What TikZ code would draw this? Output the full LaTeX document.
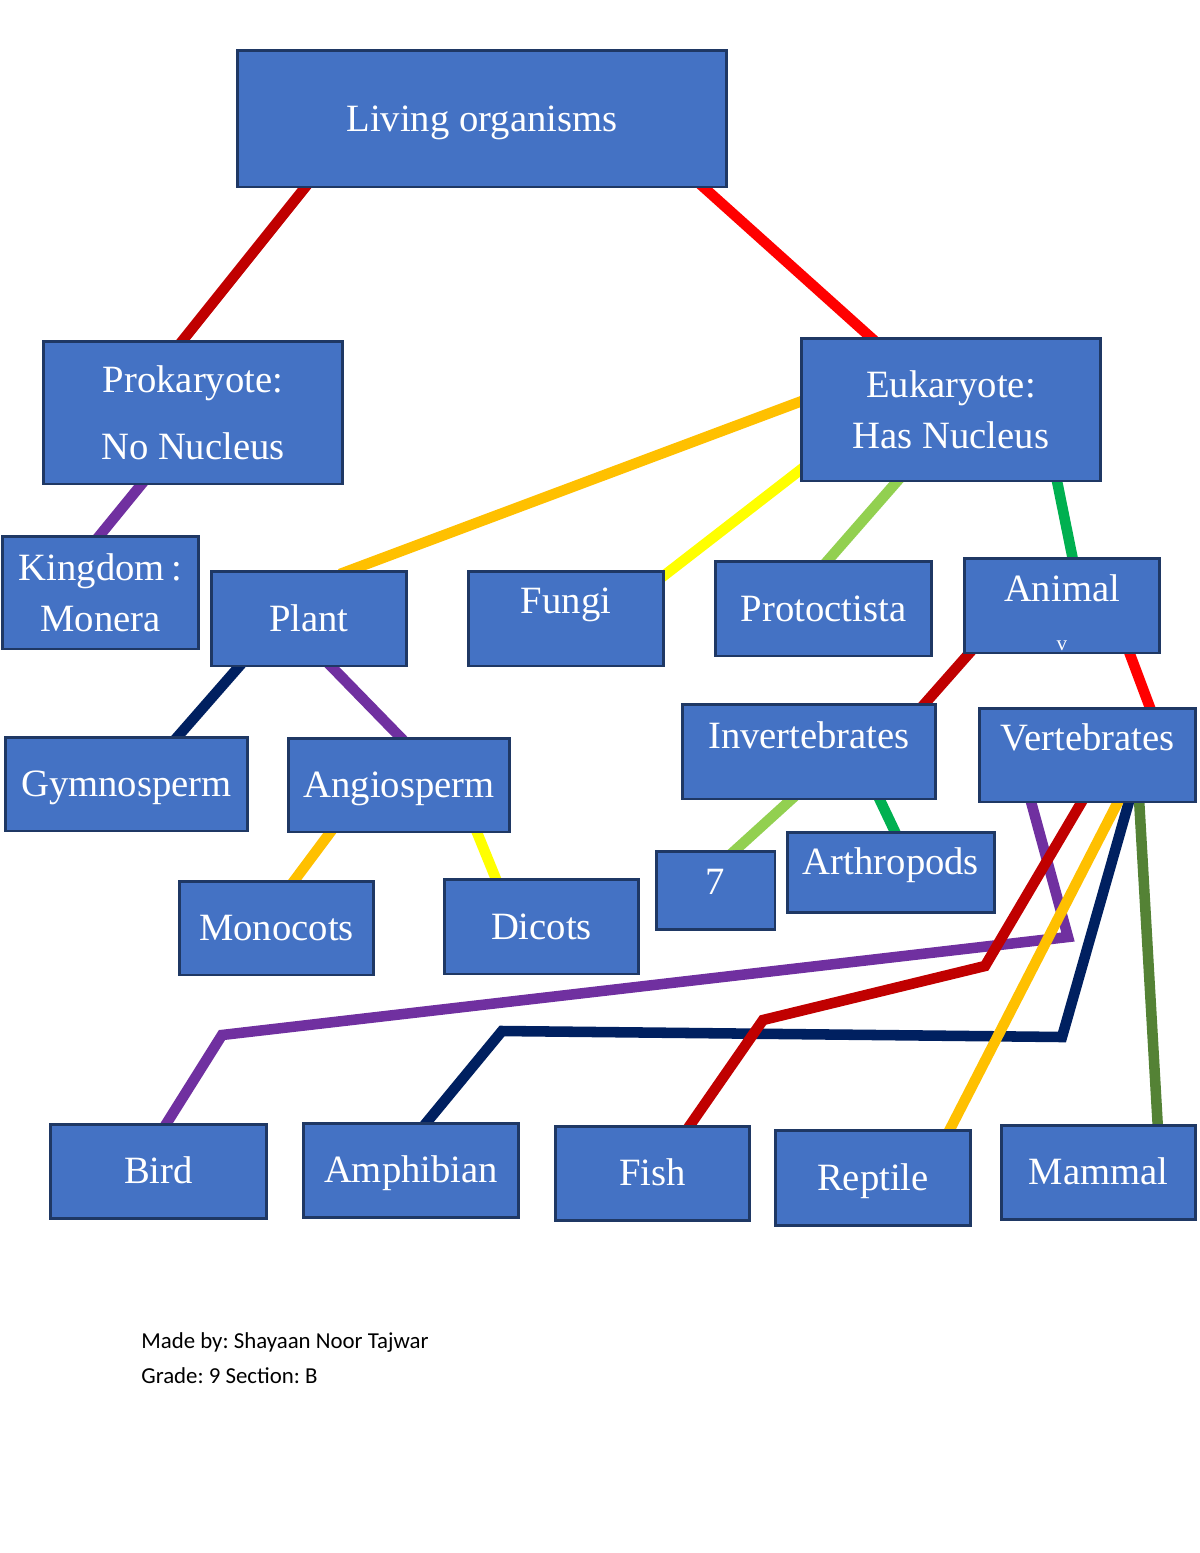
\documentclass[tikz,border=0pt]{standalone}
\usepackage{fontspec}
\setmainfont{Liberation Serif}
\newfontfamily\footfont{Carlito}
\usepackage{tikz}
\usetikzlibrary{calc, backgrounds}
\frenchspacing
\definecolor{boxblue}{HTML}{4472C4}
\definecolor{boxedge}{HTML}{1F3864}
\definecolor{linkdarkred}{HTML}{C00000}
\definecolor{linkred}{HTML}{FF0000}
\definecolor{linkpurple}{HTML}{7030A0}
\definecolor{linkgold}{HTML}{FFC000}
\definecolor{linkyellow}{HTML}{FFFF00}
\definecolor{linklime}{HTML}{92D050}
\definecolor{linkgreen}{HTML}{00B050}
\definecolor{linknavy}{HTML}{002060}
\definecolor{linkolive}{HTML}{548235}
\tikzset{
  taxbox/.style={rectangle, draw=boxedge, fill=boxblue, line width=1.7pt,
    text=white, font=\fontsize{22}{29}\selectfont, inner sep=2pt,
    text height=0.5cm, text depth=0cm},
  twobox/.style={rectangle, draw=boxedge, fill=boxblue, line width=1.7pt,
    text=white, font=\fontsize{22}{29}\selectfont, inner sep=2pt, align=center},
  link/.style={line width=6pt},
  credit/.style={anchor=base west, inner sep=0pt, font=\footfont\fontsize{13}{15}\selectfont}
}

\begin{document}
\begin{tikzpicture}[x=0.02cm, y=-0.02cm]
  \useasboundingbox (0,0) rectangle (1200,1553);

  % Top level
  \node[taxbox, minimum width=9.8cm, minimum height=2.74cm] (liv) at (482,118.5) {Living organisms};

  % Cell types
  \node[twobox, minimum width=6cm, minimum height=2.86cm] (pro) at (193,412.5) {Prokaryote:\\[9pt]No Nucleus};
  \node[twobox, minimum width=6cm, minimum height=2.86cm] (euk) at (951,409.5) {Eukaryote:\\Has Nucleus};

  % Kingdoms
  \node[twobox, minimum width=3.94cm, minimum height=2.26cm] (kin) at (100.5,592.5) {Kingdom\,:\\Monera};
  \node[taxbox, minimum width=3.92cm, minimum height=1.9cm] (pla) at (309,618.5) {Plant};
  \node[taxbox, minimum width=3.92cm, minimum height=1.9cm, text depth=0.7cm] (fun) at (566,618.5) {Fungi};
  \node[taxbox, minimum width=4.34cm, minimum height=1.9cm] (prt) at (823.5,608.5) {Protoctista};
  \node[taxbox, minimum width=3.92cm, minimum height=1.9cm, text depth=0.66cm] (ani) at (1062,605.5) {Animal};
  \node[text=white, font=\fontsize{12}{12}\selectfont, inner sep=0pt] (aniv) at (1062,646) {v};

  % Plant groups
  \node[taxbox, minimum width=4.86cm, minimum height=1.88cm] (gym) at (126.5,784) {Gymnosperm};
  \node[taxbox, minimum width=4.44cm, minimum height=1.88cm] (ang) at (399,785) {Angiosperm};
  \node[taxbox, minimum width=3.9cm, minimum height=1.88cm] (mon) at (276.5,928) {Monocots};
  \node[taxbox, minimum width=3.9cm, minimum height=1.9cm] (dic) at (541.5,926.5) {Dicots};

  % Animal groups
  \node[taxbox, minimum width=5.08cm, minimum height=1.9cm, text depth=0.62cm] (inv) at (809,751.5) {Invertebrates};
  \node[taxbox, minimum width=4.34cm, minimum height=1.88cm, text depth=0.68cm] (ver) at (1087.5,755) {Vertebrates};
  \node[taxbox, minimum width=2.38cm, minimum height=1.56cm, text depth=0.32cm] (sev) at (715.5,890) {7};
  \node[taxbox, minimum width=4.16cm, minimum height=1.6cm, text depth=0.4cm] (art) at (891,872) {Arthropods};

  % Vertebrate classes
  \node[taxbox, minimum width=4.34cm, minimum height=1.88cm] (bir) at (158.5,1171) {Bird};
  \node[taxbox, minimum width=4.32cm, minimum height=1.88cm] (amp) at (411,1170) {Amphibian};
  \node[taxbox, minimum width=3.9cm, minimum height=1.88cm] (fis) at (652.5,1173) {Fish};
  \node[taxbox, minimum width=3.92cm, minimum height=1.9cm] (rep) at (873,1177.5) {Reptile};
  \node[taxbox, minimum width=3.9cm, minimum height=1.88cm] (mam) at (1098.5,1172) {Mammal};

  % Credits
  \node[credit] (made) at (141,1348) {Made by: Shayaan Noor Tajwar};
  \node[credit] (grade) at (141,1383) {Grade: 9 Section: B};

  % Bends of the long links
  \coordinate (bird1) at (1068,937);
  \coordinate (bird2) at (222,1035);
  \coordinate (amph1) at (1062,1037);
  \coordinate (amph2) at (502,1031);
  \coordinate (fish1) at (985,966);
  \coordinate (fish2) at (763,1020);

  % Links
  \begin{pgfonlayer}{background}
    \fill[white] (0,0) rectangle (1200,1553);
    \draw[link, linkdarkred] ($(liv)+(-171,61.5)$) -- ($(pro)+(-18,-62.5)$);
    \draw[link, linkred] ($(liv)+(218,65.5)$) -- ($(euk)+(-74,-66.5)$);
    \draw[link, linkpurple] ($(pro)+(-48,67.5)$) -- ($(kin)+(-4.5,-52.5)$);
    \draw[link, linkgold] ($(euk)+(-141,-11.5)$) -- ($(pla)+(31,-44.5)$);
    \draw[link, linkyellow] ($(euk)+(-143,54.5)$) -- ($(fun)+(91,-37.5)$);
    \draw[link, linklime] ($(euk)+(-51,68.5)$) -- ($(prt)+(-0.5,-42.5)$);
    \draw[link, linkgreen] ($(euk)+(105,66.5)$) -- ($(ani)+(12,-40.5)$);
    \draw[link, linknavy] ($(pla)+(-66,43.5)$) -- ($(gym)+(46.5,-42)$);
    \draw[link, linkpurple] ($(pla)+(18,43.5)$) -- ($(ang)+(6,-43)$);
    \draw[link, linkgold] ($(ang)+(-67,45)$) -- ($(mon)+(14.5,-43)$);
    \draw[link, linkyellow] ($(ang)+(77,45)$) -- ($(dic)+(-43.5,-42.5)$);
    \draw[link, linkdarkred] ($(ani)+(-89,43.5)$) -- ($(inv)+(111,-42.5)$);
    \draw[link, linkred] ($(ani)+(66,43.5)$) -- ($(ver)+(64.5,-42)$);
    \draw[link, linklime] ($(inv)+(-14,44.5)$) -- ($(sev)+(14.5,-35)$);
    \draw[link, linkgreen] ($(inv)+(69,44.5)$) -- ($(art)+(6,-36)$);
    \draw[link, linkpurple] ($(ver)+(-57.5,43)$) -- (bird1) -- (bird2) -- ($(bir)+(4.5,-42)$);
    \draw[link, linknavy] ($(ver)+(42.5,43)$) -- (amph1) -- (amph2) -- ($(amp)+(11,-42)$);
    \draw[link, linkdarkred] ($(ver)+(-3.5,43)$) -- (fish1) -- (fish2) -- ($(fis)+(33.5,-42)$);
    \draw[link, linkgold] ($(ver)+(32.5,43)$) -- ($(rep)+(74,-42.5)$);
    \draw[link, linkolive] ($(ver)+(51.5,43)$) -- ($(mam)+(59.5,-42)$);
  \end{pgfonlayer}
\end{tikzpicture}
\end{document}
